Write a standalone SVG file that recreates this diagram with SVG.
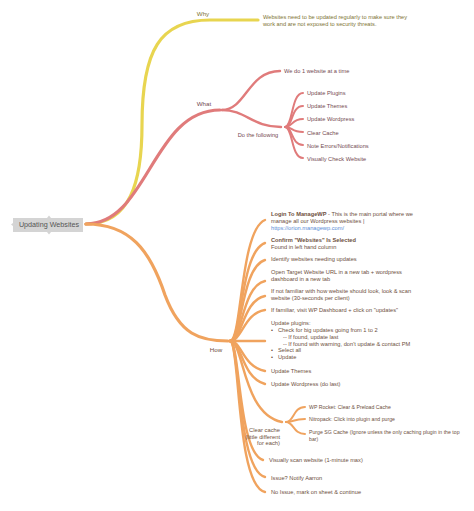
<svg xmlns="http://www.w3.org/2000/svg" width="474" height="511" viewBox="0 0 474 511">
<style>
text{font-family:"Liberation Sans",Arial,sans-serif;font-size:5.7px}
.y{fill:none;stroke:#e8d550;stroke-linecap:round}
.r{fill:none;stroke:#e07b7b;stroke-linecap:round}
.o{fill:none;stroke:#f0a35e;stroke-linecap:round}
.ty{fill:#7e7434}
.tr{fill:#744a52}
.to{fill:#6e5040}
.lbl{font-size:6.2px;text-anchor:middle}
.sm{font-size:5.2px}
.b{font-weight:bold}
.lnk{fill:#5b8dd6}
</style>
<rect width="474" height="511" fill="#ffffff"/>
<g id="connectors">
<path class="y" stroke-width="3.2" d="M86,224 C130,224 142,182 142,125 C142,50 160,20 210,20 L258,20"/>
<path class="r" stroke-width="3.2" d="M86,224 C148,224 152,110 220,110"/>
<path class="o" stroke-width="3.2" d="M86,224 C130,224 150,250 165,295 C180,335 200,341 228,341"/>
<path class="r" stroke-width="2.4" d="M222,110 C246,110 248,71 280,71"/>
<path class="r" stroke-width="2.4" d="M222,110 C246,110 252,127 281,127"/>
<path class="r" stroke-width="2" d="M285,127 C293,127 291,93 303,93"/>
<path class="r" stroke-width="2" d="M285,127 C293,127 291,106 303,106"/>
<path class="r" stroke-width="2" d="M285,127 C293,127 291,119 303,119"/>
<path class="r" stroke-width="2" d="M285,127 C293,127 291,132 303,132"/>
<path class="r" stroke-width="2" d="M285,127 C293,127 291,145 303,145"/>
<path class="r" stroke-width="2" d="M285,127 C293,127 291,158 303,158"/>
<path class="o" stroke-width="2.4" d="M230,341 C242,341 240,230 265,220"/>
<path class="o" stroke-width="2.4" d="M230,341 C242,341 240,252 265,243"/>
<path class="o" stroke-width="2.4" d="M230,341 C242,341 241,267 265,260"/>
<path class="o" stroke-width="2.4" d="M230,341 C242,341 242,286 265,281"/>
<path class="o" stroke-width="2.4" d="M230,341 C242,341 243,300 265,296"/>
<path class="o" stroke-width="2.4" d="M230,341 C242,341 244,313 265,310"/>
<path class="o" stroke-width="2.4" d="M230,341 L265,341"/>
<path class="o" stroke-width="2.4" d="M230,341 C242,341 242,366 265,371"/>
<path class="o" stroke-width="2.4" d="M230,341 C242,341 241,377 265,384"/>
<path class="o" stroke-width="2.4" d="M230,341 C244,341 242,414 282,422"/>
<path class="o" stroke-width="2.4" d="M230,341 C240,341 238,452 263,460"/>
<path class="o" stroke-width="2.4" d="M230,341 C240,341 237,470 265,477"/>
<path class="o" stroke-width="2.4" d="M230,341 C240,341 236,486 265,492"/>
<path class="o" stroke-width="2" d="M286,422 C294,422 293,407 305,407"/>
<path class="o" stroke-width="2" d="M286,422 C294,422 293,419 305,419"/>
<path class="o" stroke-width="2" d="M286,422 C294,422 293,434 305,434"/>
</g>
<g id="root">
<path d="M13,218 H47 L49,215.5 L51,218 H83 V232 H51 L49,234.5 L47,232 H13 V226 L11,224.5 L13,223 Z" fill="#d4d4d4"/>
<text x="49" y="226.8" text-anchor="middle" style="font-size:7.2px" fill="#555555">Updating Websites</text>
</g>
<g id="why">
<text class="lbl ty" x="203" y="16.2">Why</text>
<text class="ty" x="263" y="19">Websites need to be updated regularly to make sure they</text>
<text class="ty" x="263" y="26">work and are not exposed to security threats.</text>
</g>
<g id="what">
<text class="lbl tr" x="204" y="105.5">What</text>
<text class="tr" x="284" y="72.5">We do 1 website at a time</text>
<text class="tr" x="258" y="137" text-anchor="middle">Do the following</text>
<text class="tr" x="307" y="95.3">Update Plugins</text>
<text class="tr" x="307" y="108.3">Update Themes</text>
<text class="tr" x="307" y="121.3">Update Wordpress</text>
<text class="tr" x="307" y="134.5">Clear Cache</text>
<text class="tr" x="307" y="147.5">Note Errors/Notifications</text>
<text class="tr" x="307" y="160.5">Visually Check Website</text>
</g>
<g id="how">
<text class="lbl to" x="216" y="352">How</text>
<text class="to" x="271" y="216"><tspan class="b">Login To ManageWP</tspan> - This is the main portal where we</text>
<text class="to" x="271" y="223">manage all our Wordpress websites |</text>
<text class="lnk" x="271" y="230">https://orion.managewp.com/</text>
<text class="to b" x="271" y="241.5">Confirm "Websites" Is Selected</text>
<text class="to" x="271" y="248.5">Found in left hand column</text>
<text class="to" x="271" y="261">Identify websites needing updates</text>
<text class="to" x="271" y="274">Open Target Website URL in a new tab + wordpress</text>
<text class="to" x="271" y="281">dashboard in a new tab</text>
<text class="to" x="271" y="293">If not familiar with how website should look, look &amp; scan</text>
<text class="to" x="271" y="300">website (30-seconds per client)</text>
<text class="to" x="271" y="312">If familiar, visit WP Dashboard + click on "updates"</text>
<text class="to" x="271" y="324.5">Update plugins:</text>
<text class="to" x="271" y="332">•</text>
<text class="to" x="278" y="332">Check for big updates going from 1 to 2</text>
<text class="to" x="283" y="339">-- If found, update last</text>
<text class="to" x="283" y="345.5">-- If found with warning, don't update &amp; contact PM</text>
<text class="to" x="271" y="352">•</text>
<text class="to" x="278" y="352">Select all</text>
<text class="to" x="271" y="359">•</text>
<text class="to" x="278" y="359">Update</text>
<text class="to" x="271" y="372.5">Update Themes</text>
<text class="to" x="271" y="385.5">Update Wordpress (do last)</text>
<text class="to" x="280" y="432" text-anchor="end" style="font-size:5.8px">Clear cache</text>
<text class="to" x="280" y="438.5" text-anchor="end" style="font-size:5.8px">(little different</text>
<text class="to" x="280" y="445" text-anchor="end" style="font-size:5.8px">for each)</text>
<text class="to sm" x="309" y="408.5">WP Rocket: Clear &amp; Preload Cache</text>
<text class="to sm" x="309" y="420.8">Nitropack: Click into plugin and purge</text>
<text class="to sm" x="309" y="433.8">Purge SG Cache (Ignore unless the only caching plugin in the top</text>
<text class="to sm" x="309" y="440.5">bar)</text>
<text class="to" x="269" y="462">Visually scan website (1-minute max)</text>
<text class="to" x="271" y="479.5">Issue? Notify Aarron</text>
<text class="to" x="271" y="494">No Issue, mark on sheet &amp; continue</text>
</g>
</svg>
